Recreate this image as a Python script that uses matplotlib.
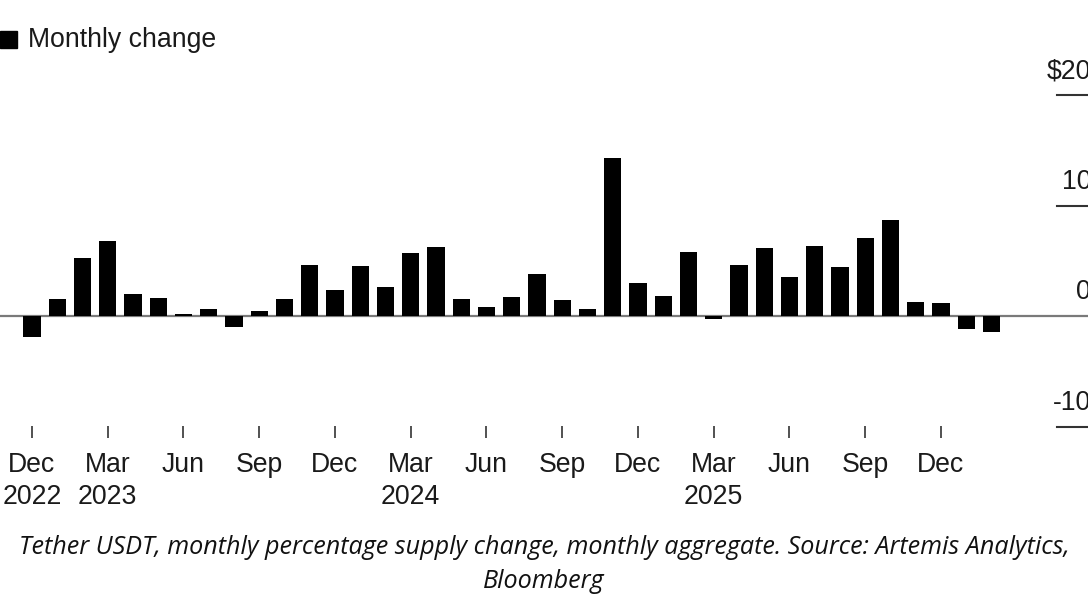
import matplotlib
matplotlib.use("Agg")
import matplotlib.pyplot as plt
import matplotlib.patches as mpatches
import pandas as pd

# ---- data ----
months = pd.date_range("2022-12-01", "2026-02-01", freq="MS")
monthly_change = [
    -1.94, 1.58, 5.24, 6.82, 1.97, 1.64, 0.18, 0.61, -0.97, 0.48, 1.55, 4.60,
    2.39, 4.55, 2.64, 5.67, 6.21, 1.52, 0.79, 1.70, 3.76, 1.45, 0.61, 14.27,
    2.97, 1.79, 5.79, -0.30, 4.58, 6.12, 3.55, 6.33, 4.39, 7.03, 8.67, 1.24,
    1.21, -1.18, -1.45,
]
y_ticks = [20, 10, 0, -10]
y_tick_labels = ["$20", "10", "0", "-10"]
legend_label = "Monthly change"
caption = ("Tether USDT, monthly percentage supply change, monthly aggregate. "
           "Source: Artemis Analytics,\nBloomberg")

# ---- figure ----
W, H, DPI = 1088, 610, 100
fig = plt.figure(figsize=(W / DPI, H / DPI), dpi=DPI)
FONT = "Liberation Sans"
FS = 19.2

ax_top_px, ax_bot_px = 60, 438
ax = fig.add_axes([0, (H - ax_bot_px) / H, 1, (ax_bot_px - ax_top_px) / H])

x = list(range(len(monthly_change)))
ax.bar(x, monthly_change, width=0.68, color="black", zorder=3)

# scales: month spacing ~25.25 px, first month at 32 px; 11.05 px per unit, zero at 316 px
px_per_month = 25.25
ax.set_xlim(-32 / px_per_month, (W - 32) / px_per_month)
ppu = 11.05
ax.set_ylim((316 - ax_bot_px) / ppu, (316 - ax_top_px) / ppu)

# zero line across; short grid segments at right
ax.axhline(0, color="#7a7a7a", lw=1.6, zorder=2)
for v, lab in zip(y_ticks, y_tick_labels):
    if v != 0:
        ax.axhline(v, xmin=1057 / W, xmax=1, color="#333333", lw=1.5, zorder=2, clip_on=False)
    ax.annotate(lab, xy=(1091 / W, v),
                xycoords=ax.get_yaxis_transform(), xytext=(0, 17),
                textcoords="offset points", ha="right", va="center",
                fontsize=FS, family=FONT, color="#1a1a1a", annotation_clip=False)

# x ticks
tick_idx = list(range(0, len(months), 3))
labels = []
prev_year = None
for i in tick_idx:
    m = months[i]
    lab = m.strftime("%b")
    if m.year != prev_year:
        lab += "\n" + str(m.year)
        prev_year = m.year
    labels.append(lab)
ax.set_xticks(tick_idx)
ax.set_xticklabels(labels, fontsize=FS, family=FONT, color="#1a1a1a",
                   linespacing=1.3, va="top")
ax.tick_params(axis="x", direction="in", length=8.6, width=1.2, color="#333333", pad=10)
ax.set_yticks([])
for s in ax.spines.values():
    s.set_visible(False)
ax.patch.set_alpha(0)

# legend
fig.patches.append(mpatches.Rectangle((0 / W, (H - 48) / H), 17 / W, 17 / H,
                                      transform=fig.transFigure, color="black"))
fig.text(28 / W, (H - 40) / H, legend_label, fontsize=FS, family=FONT,
         color="#1a1a1a", ha="left", va="center")

# caption
fig.text(0.5, (H - 535) / H, caption, fontsize=18.1, family="Open Sans",
         style="italic", ha="center", va="top", linespacing=1.5, color="#111111")

fig.savefig("out.png", dpi=DPI)
